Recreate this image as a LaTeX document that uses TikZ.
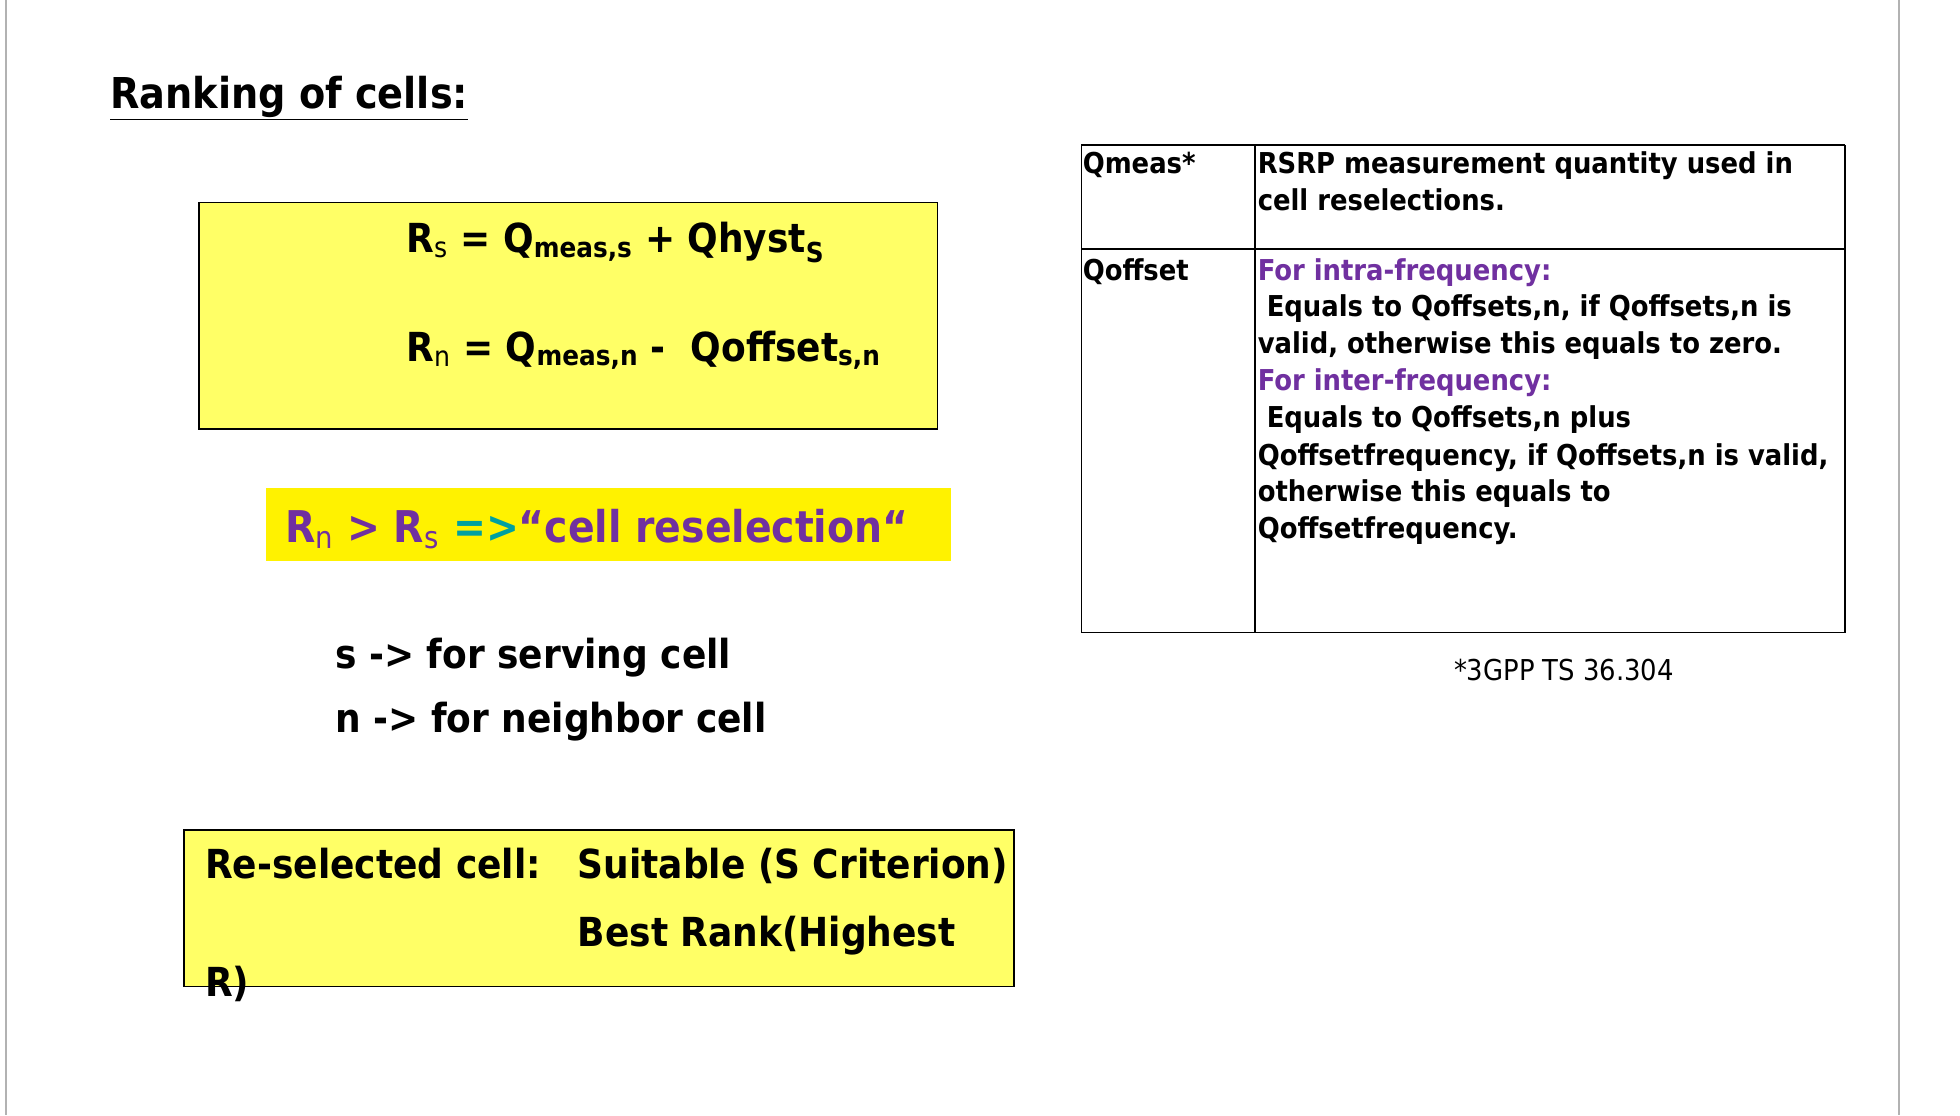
\documentclass[tikz,border=0pt]{standalone}
\usepackage{fontspec}
\setmainfont{DejaVu Sans Condensed}
\definecolor{lyel}{HTML}{FFFF66}
\definecolor{purp}{HTML}{7030A0}
\definecolor{teal2}{HTML}{00A0A0}
\begin{document}
\begin{tikzpicture}[x=1pt,y=-1pt,
  txt/.style={anchor=base west,inner sep=0pt,font=\bfseries\fontsize{32}{38}\selectfont},
  tt/.style={anchor=base west,inner sep=0pt,font=\bfseries\fontsize{23}{28}\selectfont},
  ybox/.style={draw=black,line width=1.2pt,fill=lyel}]
\useasboundingbox[fill=white] (0,0) rectangle (1568,892);
\draw[gray!60,line width=1.5pt] (5,0) -- (5,892) (1519,0) -- (1519,892);
\node[txt,font=\bfseries\fontsize{34}{40}\selectfont] (title) at (88,87) {\underline{Ranking of cells:}};
\draw[ybox] (159,162) rectangle (750,343);
\node[txt] (eq1) at (325,202) {R$_{\mathrm{s}}$ = Q$_{\textbf{\fontsize{22}{26}\selectfont meas,s}}$ + Qhyst$_{\textbf{\fontsize{22}{26}\selectfont S}}$};
\node[txt] (eq2) at (325,289) {R$_{\mathrm{n}}$ = Q$_{\textbf{\fontsize{22}{26}\selectfont meas,n}}$ - \ Qoffset$_{\textbf{\fontsize{22}{26}\selectfont s,n}}$};
\fill[yellow] (213,390) rectangle (761,449);
\node[txt,font=\bfseries\fontsize{35}{40}\selectfont] (cond) at (228,434) {\textcolor{purp}{R$_{\mathrm{n}}$ > R$_{\mathrm{s}}$ }\textcolor{teal2}{=>}\textcolor{purp}{“cell reselection“}};
\node[txt] (s) at (268,535) {s -> for serving cell};
\node[txt] (n) at (268,586) {n -> for neighbor cell};
\draw[ybox] (147,664) rectangle (811,789);
\node[txt] (rc) at (164,703) {Re-selected cell:};
\node[txt] (suit) at (462,703) {Suitable (S Criterion)};
\node[txt] (best) at (462,757) {Best Rank(Highest};
\node[txt] (r) at (164,797) {R)};
% table
\draw[line width=1.2pt] (865,116) -- (1476,116) (865,199) -- (1476,199) (865,506) -- (1476,506);
\draw[line width=1.2pt] (865,116) -- (865,506) (1004,116) -- (1004,506) (1476,116) -- (1476,506);
\node[tt] (q1) at (866,139) {Qmeas*};
\node[tt] (d1) at (1006,139) {RSRP measurement quantity used in};
\node[tt] (d1b) at (1006,168) {cell reselections.};
\node[tt] (q2) at (866,224) {Qoffset};
\node[tt,text=purp] (a1) at (1006,224) {For intra-frequency:};
\node[tt] (a2) at (1006,253) {\ Equals to Qoffsets,n, if Qoffsets,n is};
\node[tt] (a3) at (1006,283) {valid, otherwise this equals to zero.};
\node[tt,text=purp] (a4) at (1006,312) {For inter-frequency:};
\node[tt] (a5) at (1006,342) {\ Equals to Qoffsets,n plus};
\node[tt] (a6) at (1006,372) {Qoffsetfrequency, if Qoffsets,n is valid,};
\node[tt] (a7) at (1006,401) {otherwise this equals to};
\node[tt] (a8) at (1006,431) {Qoffsetfrequency.};
\node[anchor=base west,inner sep=0pt,font=\fontsize{23}{28}\selectfont] (ref) at (1163,544) {*3GPP TS 36.304};
\end{tikzpicture}
\end{document}
